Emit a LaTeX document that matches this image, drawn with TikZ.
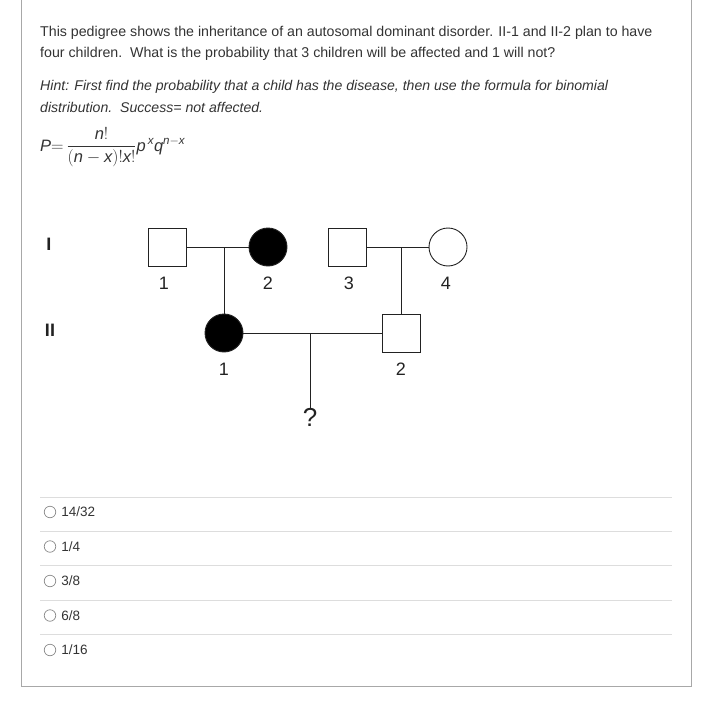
\documentclass[tikz,border=0pt]{standalone}
\usepackage{amsmath}
\usepackage{fontspec}
\setmainfont{Liberation Sans}
\usetikzlibrary{positioning}
\definecolor{txt}{HTML}{333333}
\definecolor{framegray}{HTML}{A8A8A8}
\definecolor{sepgray}{HTML}{DDDDDD}
\definecolor{radiogray}{HTML}{8A8A8A}
\definecolor{ink}{HTML}{222222}

\begin{document}
\begin{tikzpicture}[
  x=1pt, y=-1pt,
  body/.style={anchor=base west, inner sep=0pt, text=txt,
               font=\fontsize{14.2}{17}\selectfont},
  hint/.style={body, font=\fontsize{14.1}{17}\selectfont\itshape},
  male/.style={draw=ink, line width=0.9pt, minimum size=38pt, inner sep=0pt},
  female/.style={male, circle},
  affected/.style={fill=black},
  pedline/.style={draw=ink, line width=0.9pt},
  idlabel/.style={inner sep=0pt, font=\fontsize{18}{20}\selectfont, text=ink},
  genlabel/.style={inner sep=0pt, font=\fontsize{18}{20}\selectfont\bfseries, text=ink},
  radio/.style={circle, draw=radiogray, line width=0.7pt, minimum size=11.5pt, inner sep=0pt},
  choice/.style={anchor=west, inner sep=0pt, text=txt, font=\fontsize{13.5}{16}\selectfont},
  sep/.style={draw=sepgray, line width=0.8pt},
]
  \useasboundingbox (0,0) rectangle (707,701);
  \draw[framegray, line width=1pt] (21,0) -- (21,686) -- (691,686) -- (691,0);

  % question and hint
  \node[body] (q1) at (40,37)
    {This pedigree shows the inheritance of an autosomal dominant disorder. II-1 and II-2 plan to have};
  \node[body] (q2) at (40,58)
    {four children.\ \ What is the probability that 3 children will be affected and 1 will not?};
  \node[hint] (h1) at (40,91)
    {Hint: First find the probability that a child has the disease, then use the formula for binomial};
  \node[hint] (h2) at (40,112)
    {distribution.\ \ Success= not affected.};
  \node[body, text=txt, font=\fontsize{16.5}{19}\selectfont] (formula) at (40,151)
    {$\textit{P}{=}\,\dfrac{\textit{n}!}{(\textit{n}-\textit{x})!\textit{x}!}
      \textit{p}^{\,\textit{x}}\textit{q}^{\textit{n}-\textit{x}}$};

  % generation I
  \node[genlabel] (genI)  at (49,244) {I};
  \node[male]             (i1) at (167,247) {};
  \node[female, affected] (i2) at (268,247) {};
  \node[male]             (i3) at (347,247) {};
  \node[female]           (i4) at (448,247) {};
  \node[idlabel] (li1) at (164,283) {1};
  \node[idlabel] (li2) at (268,283) {2};
  \node[idlabel] (li3) at (349,283) {3};
  \node[idlabel] (li4) at (446,283) {4};

  % generation II
  \node[genlabel] (genII) at (50,330) {II};
  \node[female, affected] (ii1) at (224,333) {};
  \node[male]             (ii2) at (401,333) {};
  \node[idlabel] (lii1) at (224,369) {1};
  \node[idlabel] (lii2) at (401,369) {2};
  \node[idlabel, font=\fontsize{26}{28}\selectfont] (child) at (310,417) {?};

  % matings and descent lines
  \coordinate (m1) at (224,247);
  \coordinate (m2) at (401,247);
  \coordinate (m3) at (310,333);
  \draw[pedline] (i1.east) -- (i2.west);
  \draw[pedline] (i3.east) -- (i4.west);
  \draw[pedline] (ii1.east) -- (ii2.west);
  \draw[pedline] (m1) -- (ii1.north);
  \draw[pedline] (m2) -- (ii2.north);
  \draw[pedline] (m3) -- (child.north);

  % answer choices
  \foreach \val [count=\i] in {14/32, 1/4, 3/8, 6/8, 1/16} {
    \draw[sep] (40,{497+34.3*(\i-1)}) -- (672,{497+34.3*(\i-1)});
    \node[radio] (radio\i) at (50,{512+34.5*(\i-1)}) {};
    \node[choice, right=5pt of radio\i] (choice\i) {\val};
  }
\end{tikzpicture}
\end{document}
